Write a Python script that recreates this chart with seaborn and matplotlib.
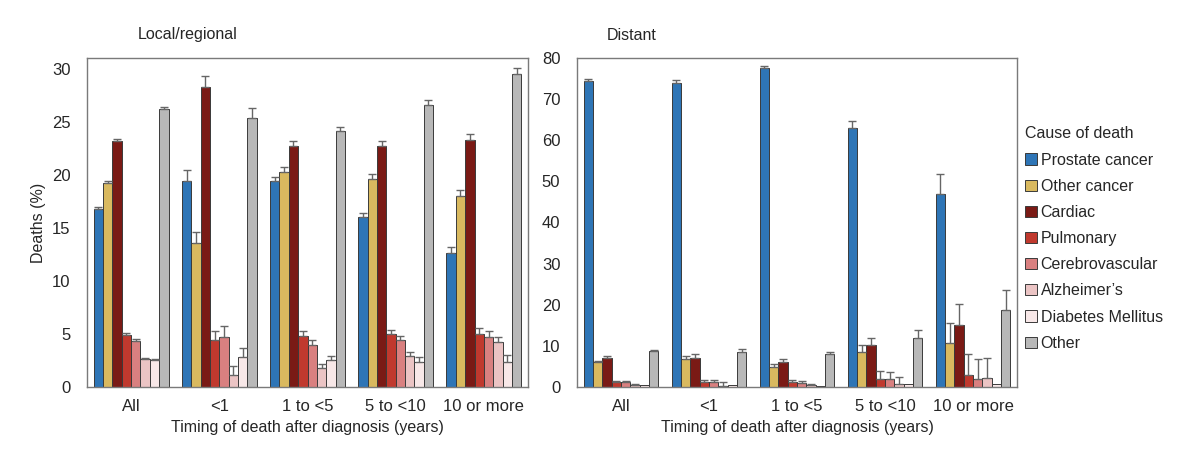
import numpy as np
import pandas as pd
import matplotlib
matplotlib.use("Agg")
import matplotlib.pyplot as plt
import seaborn as sns

# categories
timings = ["All", "<1", "1 to <5", "5 to <10", "10 or more"]
causes = [
    "Prostate cancer", "Other cancer", "Cardiac", "Pulmonary",
    "Cerebrovascular", "Alzheimer\u2019s", "Diabetes Mellitus", "Other",
]
colors = ["#2E75B6", "#D9B95F", "#7A1A15", "#C0392E", "#D98080",
          "#EBC4C4", "#F8E8E8", "#B8B8B8"]

# rows = cause, columns = timing
local_pct = [
    [16.8, 19.4, 19.4, 16.0, 12.6],
    [19.2, 13.6, 20.3, 19.6, 18.0],
    [23.2, 28.3, 22.7, 22.7, 23.3],
    [4.9, 4.4, 4.8, 5.0, 5.0],
    [4.3, 4.7, 4.0, 4.4, 4.7],
    [2.6, 1.1, 1.8, 2.9, 4.2],
    [2.5, 2.8, 2.5, 2.4, 2.4],
    [26.2, 25.3, 24.1, 26.6, 29.5],
]
local_err = [
    [0.2, 1.0, 0.4, 0.4, 0.55],
    [0.2, 1.0, 0.45, 0.45, 0.55],
    [0.2, 1.0, 0.45, 0.45, 0.55],
    [0.2, 0.9, 0.45, 0.4, 0.55],
    [0.2, 1.0, 0.45, 0.4, 0.55],
    [0.15, 0.9, 0.4, 0.4, 0.55],
    [0.15, 0.9, 0.4, 0.4, 0.6],
    [0.2, 1.0, 0.4, 0.4, 0.55],
]
distant_pct = [
    [74.4, 74.0, 77.6, 63.0, 46.9],
    [6.0, 6.8, 4.9, 8.5, 10.6],
    [7.0, 7.1, 6.1, 10.2, 15.1],
    [1.2, 1.1, 1.1, 2.0, 3.0],
    [1.1, 1.1, 1.0, 2.0, 1.9],
    [0.5, 0.2, 0.4, 0.8, 2.1],
    [0.4, 0.5, 0.3, 0.8, 0.8],
    [8.8, 8.6, 8.0, 12.0, 18.6],
]
distant_err = [
    [0.4, 0.6, 0.4, 1.8, 5.0],
    [0.4, 0.8, 0.6, 1.7, 5.0],
    [0.5, 0.9, 0.6, 1.8, 5.0],
    [0.3, 0.7, 0.5, 1.8, 5.0],
    [0.3, 0.7, 0.4, 1.7, 4.9],
    [0.3, 0.9, 0.4, 1.6, 4.9],
    [0.0, 0.0, 0.0, 0.0, 0.0],
    [0.25, 0.75, 0.5, 1.85, 5.1],
]


def to_long(pct):
    rows = []
    for cause, vals in zip(causes, pct):
        for timing, v in zip(timings, vals):
            rows.append({"timing": timing, "cause": cause, "pct": v})
    return pd.DataFrame(rows)


sns.set_style("white")
plt.rcParams["font.family"] = ["Liberation Sans", "DejaVu Sans"]
plt.rcParams["font.size"] = 11.5

fig = plt.figure(figsize=(12, 4.55), dpi=100)
ax_l = fig.add_axes([87 / 1200, 0.1495, 441 / 1200, 0.723])
ax_r = fig.add_axes([577 / 1200, 0.1495, 440 / 1200, 0.723])

panels = [
    (ax_l, local_pct, local_err, 31, 5, "Local/regional", 138),
    (ax_r, distant_pct, distant_err, 80, 10, "Distant", 607),
]

for ax, pct, err, ymax, step, title, title_x in panels:
    df = to_long(pct)
    sns.barplot(
        data=df, x="timing", y="pct", hue="cause",
        order=timings, hue_order=causes, palette=colors, saturation=1,
        width=0.85, edgecolor="#3a3a3a", linewidth=0.7,
        errorbar=None, legend=False, ax=ax,
    )
    # upper-only error bars on top of each bar
    bar_containers = list(ax.containers)
    for k, container in enumerate(bar_containers):
        for j, bar in enumerate(container):
            e = err[k][j]
            if e <= 0:
                continue
            ax.errorbar(
                bar.get_x() + bar.get_width() / 2, bar.get_height(),
                yerr=[[0], [e]], fmt="none", ecolor="#666666",
                elinewidth=1.0, capsize=3, capthick=1.0, zorder=1,
            )
    ax.set_ylim(0, ymax)
    ax.set_xlim(-0.5, 4.5)
    ax.set_yticks(np.arange(0, ymax + 0.1, step))
    ax.tick_params(length=0, labelsize=12)
    ax.tick_params(axis="y", pad=12)
    ax.tick_params(axis="x", pad=9)
    for s in ax.spines.values():
        s.set_color("#7a7a7a")
        s.set_linewidth(1.0)
    ax.set_xlabel("Timing of death after diagnosis (years)", fontsize=11.5,
                  labelpad=4)
    ax.set_ylabel("")
    fig.text(title_x / 1200, 1 - 35 / 455, title, fontsize=11.5,
             ha="left", va="center")

ax_l.set_ylabel("Deaths (%)", fontsize=11.5, labelpad=4)

handles = [plt.Rectangle((0, 0), 1, 1, facecolor=c, edgecolor="#3a3a3a",
                         linewidth=0.7) for c in colors]
leg = fig.legend(
    handles, causes, title="Cause of death", loc="upper left",
    bbox_to_anchor=(1019 / 1200, 1 - 120 / 455), frameon=False,
    fontsize=11.5, title_fontsize=11.5, handlelength=0.7, handleheight=0.7,
    handletextpad=0.25, labelspacing=0.7, alignment="left", borderaxespad=0,
)

fig.savefig("out.png", dpi=100)
